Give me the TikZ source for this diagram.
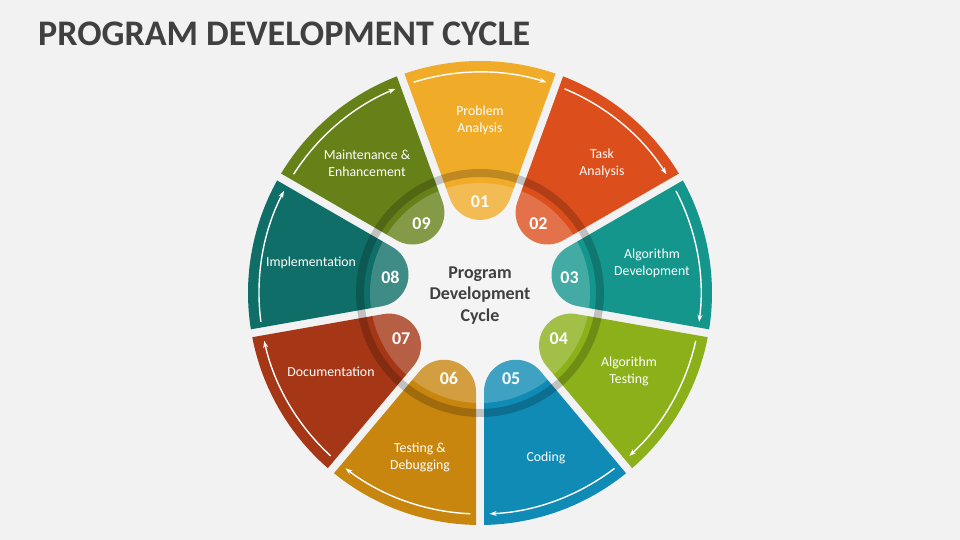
\documentclass[tikz,border=0pt]{standalone}
\usepackage{fontspec}
\setmainfont{Carlito}
\usetikzlibrary{arrows.meta}
\definecolor{bg}{HTML}{F2F2F2}
\definecolor{ink}{HTML}{404040}
\definecolor{c1}{HTML}{F0AB29}
\definecolor{c2}{HTML}{DC4E1C}
\definecolor{c3}{HTML}{14968C}
\definecolor{c4}{HTML}{8BB01A}
\definecolor{c5}{HTML}{0F8BB5}
\definecolor{c6}{HTML}{C8860F}
\definecolor{c7}{HTML}{A63716}
\definecolor{c8}{HTML}{0F6E67}
\definecolor{c9}{HTML}{668118}
\tikzset{
  lbl/.style={text=white, align=center, inner sep=0pt, font=\fontsize{13.8}{17}\selectfont},
  num/.style={text=white, inner sep=0pt, font=\bfseries\fontsize{18}{20}\selectfont},
  arr/.style={white, line width=1.4pt, -{Stealth[length=7pt,width=5pt]}},
}
\begin{document}
\begin{tikzpicture}[x=1pt,y=1pt]
\useasboundingbox (-480,-247) rectangle (480,293);
\fill[bg] (-480,-247) rectangle (480,293);
\node[anchor=base west, inner sep=0pt, text=ink, font=\bfseries\fontsize{36}{42}\selectfont] (title) at (-442,247) {PROGRAM DEVELOPMENT CYCLE};
\pgfmathsetmacro\dg{asin(4/232)}
\pgfmathsetmacro\rr{105*sin(20)-4}
\foreach \k/\col in {0/c1,1/c2,2/c3,3/c4,4/c5,5/c6,6/c7,7/c8,8/c9}{
  \pgfmathsetmacro\a{90-40*\k}
  \fill[\col, rotate=\a] (20-\dg:232) -- ({105-\rr*sin(20)},{\rr*cos(20)})
     arc[start angle=110, end angle=250, radius=\rr]
     -- (-20+\dg:232) arc[start angle=-20+\dg, end angle=20-\dg, radius=232] -- cycle;
  \draw[arr, rotate=\a] (17.5:221) arc[start angle=17.5, end angle=-17.5, radius=221];
}
\fill[white, opacity=0.2] (0,0) circle (110);
\draw[black, opacity=0.2, line width=8pt] (0,0) circle (120);
\foreach \k/\n in {0/01,1/02,2/03,3/04,4/05,5/06,6/07,7/08,8/09}{
  \pgfmathsetmacro\a{90-40*\k}
  \node[num] (n\n) at (\a:91) {\n};
}
\node[lbl] (l01) at (0,173) {Problem\\Analysis};
\node[lbl] (l02) at (122,130) {Task\\Analysis};
\node[lbl] (l03) at (172,30) {Algorithm\\Development};
\node[lbl] (l04) at (149,-78) {Algorithm\\Testing};
\node[lbl] (l05) at (66,-165) {Coding};
\node[lbl] (l06) at (-60,-164) {Testing \&\\Debugging};
\node[lbl] (l07) at (-149,-79) {Documentation};
\node[lbl] (l08) at (-169,30) {Implementation};
\node[lbl] (l09) at (-113,130) {Maintenance \&\\Enhancement};
\node[text=ink, align=center, inner sep=0pt, font=\bfseries\fontsize{18}{21.5}\selectfont] (center) at (0,-2.5) {Program\\Development\\Cycle};
\end{tikzpicture}
\end{document}
